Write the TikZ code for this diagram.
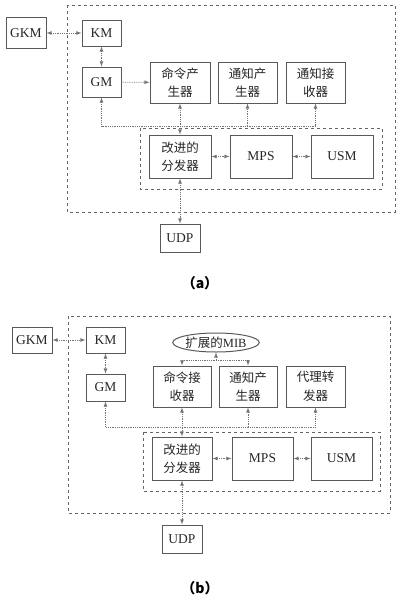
\documentclass[tikz,border=0pt]{standalone}
\usepackage{fontspec}
\setmainfont{Liberation Serif}
\newfontfamily\cjk{Noto Sans CJK SC}
\usetikzlibrary{shapes.geometric}

\begin{document}
\begin{tikzpicture}[x=1pt,y=-1pt,>=latex,
    box/.style={draw=black!65,line width=1pt,inner sep=0pt,align=center,text=black!85},
    lat/.style={font=\fontsize{13.5}{16}\selectfont},
    han/.style={font=\cjk\fontsize{12.5}{18.5}\selectfont},
    captext/.style={font=\cjk\fontsize{14}{16}\selectfont\bfseries},
    conn/.style={draw=black!55,line width=0.8pt,densely dotted},
    frame/.style={draw=black!60,line width=0.8pt,dashed}]
    \useasboundingbox (0,0) rectangle (406,600);

    % (a)
    \draw[frame] (67,5) rectangle (395,212);
    \draw[frame] (140,128) rectangle (382,189);
    \node[box,lat,minimum width=40,minimum height=31] (gkmA) at (26,33) {GKM};
    \node[box,lat,minimum width=39,minimum height=26] (kmA) at (101.5,33) {KM};
    \node[box,lat,minimum width=39,minimum height=30] (gmA) at (101.5,82) {GM};
    \node[box,han,minimum width=60,minimum height=41] (cmdA) at (180,82.5) {命令产\\生器};
    \node[box,han,minimum width=59,minimum height=41] (ntfgA) at (247.5,82.5) {通知产\\生器};
    \node[box,han,minimum width=59,minimum height=41] (ntfrA) at (315.5,82.5) {通知接\\收器};
    \node[box,han,minimum width=62,minimum height=43] (dispA) at (180,156.5) {改进的\\分发器};
    \node[box,lat,minimum width=62,minimum height=43] (mpsA) at (261,156.5) {MPS};
    \node[box,lat,minimum width=62,minimum height=43] (usmA) at (342,156.5) {USM};
    \node[box,lat,minimum width=40,minimum height=28] (udpA) at (180,238) {UDP};
    \node[captext] (capA) at (200,283) {（a）};
    \coordinate (busA) at (0,126);
    \draw[conn,<->] (gkmA) -- (kmA);
    \draw[conn,<->] (kmA) -- (gmA);
    \draw[conn,->] (gmA) -- (cmdA);
    \draw[conn,<->] (gmA.south) |- (ntfrA.south |- busA) -- (ntfrA.south);
    \draw[conn,->] (ntfgA.south |- busA) -- (ntfgA.south);
    \draw[conn,<->] (cmdA) -- (dispA);
    \draw[conn,<->] (dispA) -- (mpsA);
    \draw[conn,<->] (mpsA) -- (usmA);
    \draw[conn,<->] (dispA) -- (udpA);

    % (b)
    \draw[frame] (68,316) rectangle (390,513);
    \draw[frame] (143,432) rectangle (380,491);
    \node[box,lat,minimum width=40,minimum height=26] (gkmB) at (32,340) {GKM};
    \node[box,lat,minimum width=39,minimum height=26] (kmB) at (105.5,340) {KM};
    \node[box,lat,minimum width=39,minimum height=27] (gmB) at (105.5,387.5) {GM};
    \node[box,ellipse,minimum width=82,minimum height=19,han] (mibB) at (216,342.5) {扩展的{\rmfamily MIB}};
    \node[box,han,minimum width=58,minimum height=41] (cmdrB) at (182,386.5) {命令接\\收器};
    \node[box,han,minimum width=58,minimum height=41] (ntfgB) at (248,386.5) {通知产\\生器};
    \node[box,han,minimum width=59,minimum height=41] (proxB) at (315.5,386.5) {代理转\\发器};
    \node[box,han,minimum width=60,minimum height=43] (dispB) at (182,458.5) {改进的\\分发器};
    \node[box,lat,minimum width=61,minimum height=43] (mpsB) at (262.5,458.5) {MPS};
    \node[box,lat,minimum width=61,minimum height=43] (usmB) at (341.5,458.5) {USM};
    \node[box,lat,minimum width=40,minimum height=28] (udpB) at (182,539) {UDP};
    \node[captext] (capB) at (200,588) {（b）};
    \coordinate (busB) at (0,427);
    \coordinate (mibbus) at (0,360);
    \draw[conn,<->] (gkmB) -- (kmB);
    \draw[conn,<->] (kmB) -- (gmB);
    \draw[conn,<->] (mibB.south) -- (mibB.south |- mibbus) -| (cmdrB.north);
    \draw[conn,->] (mibB.south |- mibbus) -| (ntfgB.north);
    \draw[conn,<->] (gmB.south) |- (proxB.south |- busB) -- (proxB.south);
    \draw[conn,->] (ntfgB.south |- busB) -- (ntfgB.south);
    \draw[conn,<->] (cmdrB) -- (dispB);
    \draw[conn,<->] (dispB) -- (mpsB);
    \draw[conn,<->] (mpsB) -- (usmB);
    \draw[conn,<->] (dispB) -- (udpB);
\end{tikzpicture}
\end{document}
